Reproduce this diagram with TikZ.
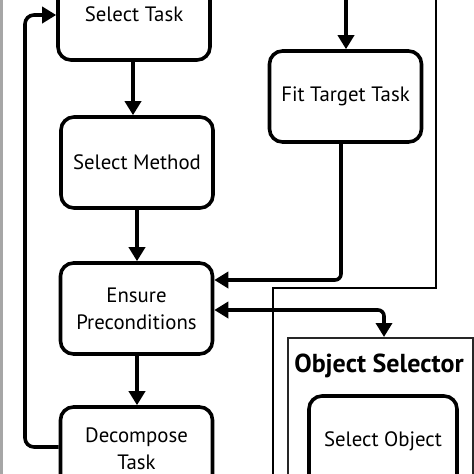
\documentclass[tikz,border=0pt]{standalone}
\usepackage{fontspec}
\setmainfont{PT Sans}
\usetikzlibrary{arrows.meta,positioning}
\begin{document}
\begin{tikzpicture}[x=1pt,y=-1pt,
  stepbox/.style={draw,line width=3.6pt,rounded corners=13pt,minimum width=152pt,minimum height=91pt,align=center,font=\fontsize{20.8}{27}\selectfont,inner sep=0pt},
  arr/.style={line width=3.6pt,-{Triangle[length=14pt,width=16pt]}},
  darr/.style={line width=3.6pt,{Triangle[length=14pt,width=16pt]}-{Triangle[length=14pt,width=16pt]}},
  thin/.style={line width=1.8pt},
  groupbox/.style={draw,line width=1.8pt,minimum width=185pt,minimum height=190pt,inner sep=0pt}]
\useasboundingbox (0,0) rectangle (474,474);
\clip (0,0) rectangle (474,474);
\fill[white] (0,0) rectangle (474,474);
\fill[gray!70] (0,0) rectangle (3,474);
% nodes
\node[stepbox] (task) at (134,14.5) {Select Task};
\node[stepbox] (method) at (137,162.5) {Select Method};
\node[stepbox] (ensure) at (136.5,308.5) {Ensure\\Preconditions};
\node[stepbox,minimum height=84pt] (decomp) at (136.5,449) {Decompose\\Task};
\node[stepbox] (fit) at (345.5,96.5) {Fit Target Task};
\node[groupbox,anchor=north west,draw=black!85] (objsel) at (287,337) {};
\node[font=\fontsize{26}{30}\bfseries\selectfont,inner sep=0pt] (objtitle) at (379,366) {Object Selector};
\node[stepbox,minimum width=148pt] (selobj) at (383,441.5) {Select Object};
% coordinates
\coordinate (topin) at (346,0);
\coordinate (cA) at (436,0);
\coordinate (cB) at (436,288);
\coordinate (cC) at (273,288);
\coordinate (cD) at (273,474);
\coordinate (fitout) at (341,142);
\coordinate (fitturn) at (341,280);
\coordinate (ens1) at (213,280);
\coordinate (ens2) at (213,310);
\coordinate (dturn) at (384,310);
\coordinate (loopA) at (25,447);
\coordinate (loopB) at (25,15);
% connectors
\draw[arr] (task.south -| 133,0) -- (method.north -| 133,0);
\draw[arr] (method.south -| 137,0) -- (ensure.north -| 137,0);
\draw[arr] (ensure.south -| 137,0) -- (decomp.north -| 137,0);
\draw[arr] (topin) -- (fit.north -| topin);
\draw[arr,rounded corners=6pt] (fit.south -| fitout) -- (fitturn) -- (ensure.east |- ens1);
\draw[darr,rounded corners=6pt] (ensure.east |- ens2) -- (dturn) -- (objsel.north -| dturn);
\draw[arr,rounded corners=9pt] (decomp.west |- loopA) -- (loopA) -- (loopB) -- (task.west |- loopB);
\draw[thin] (cA) -- (cB) -- (cC) -- (cD);
\end{tikzpicture}
\end{document}
